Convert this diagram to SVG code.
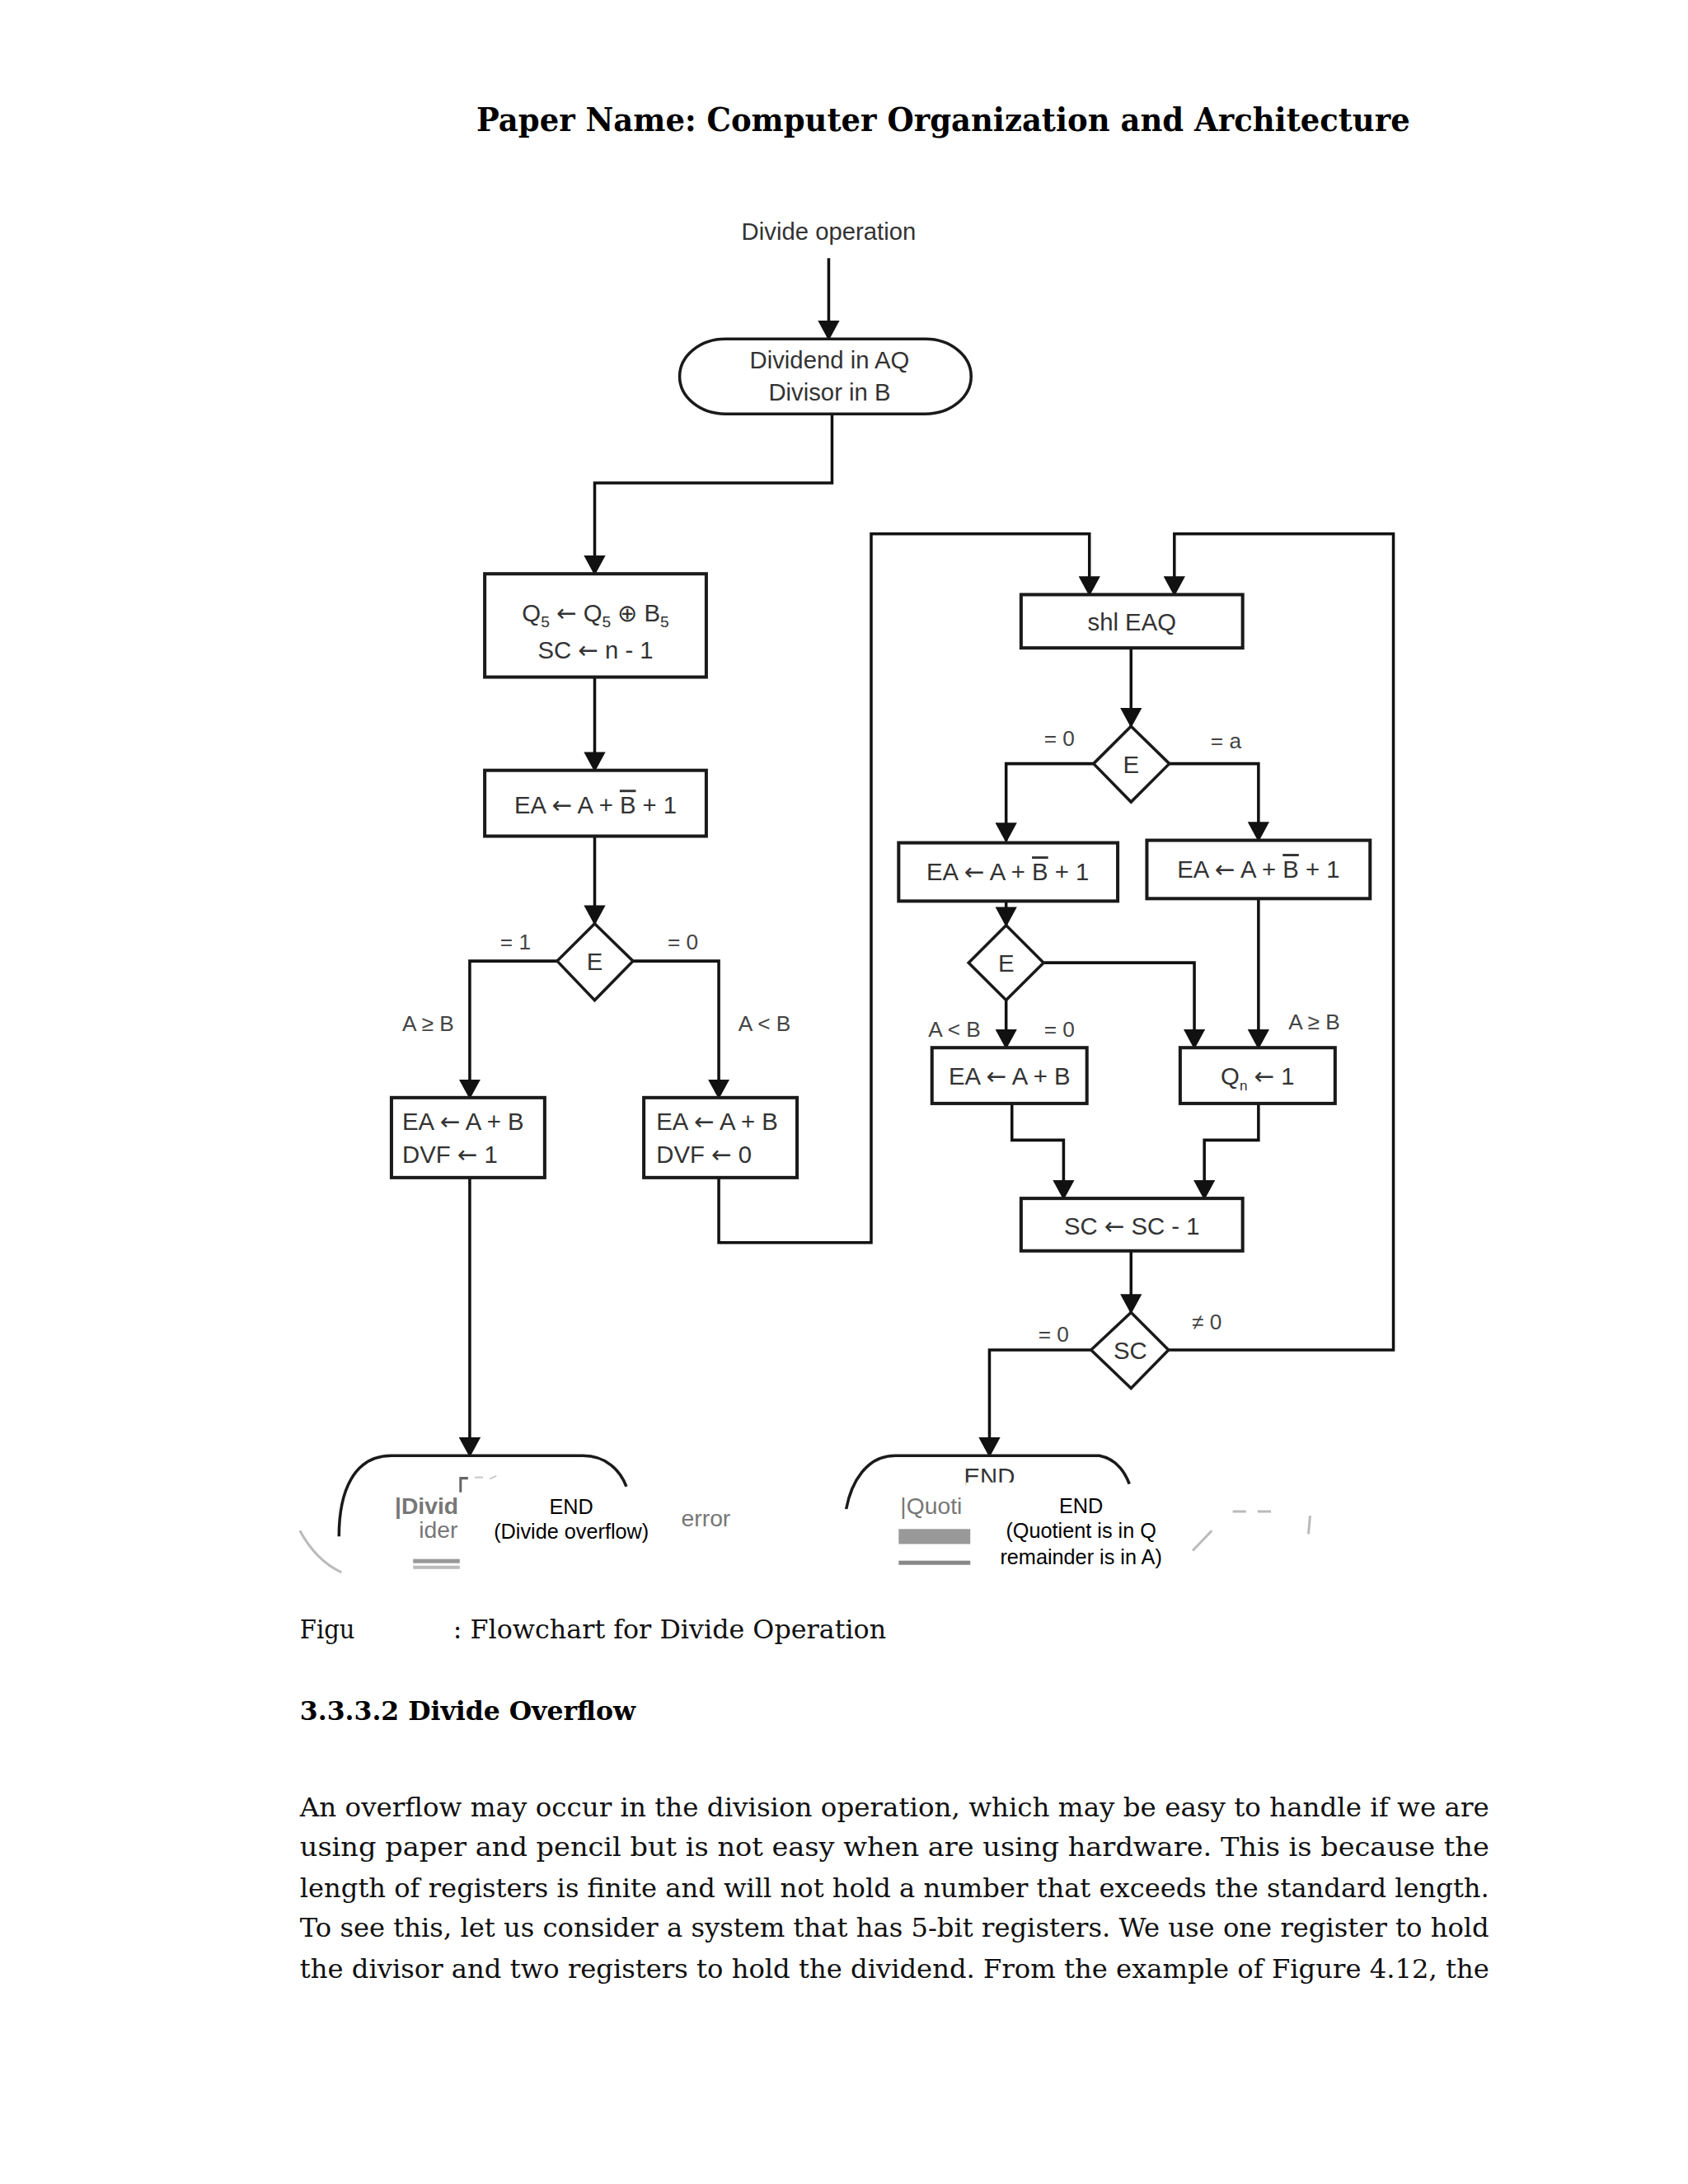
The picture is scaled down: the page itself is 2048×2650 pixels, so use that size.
<svg xmlns="http://www.w3.org/2000/svg" width="2048" height="2650" viewBox="0 0 2048 2650">
<defs>
<marker id="arr" markerUnits="userSpaceOnUse" markerWidth="24" markerHeight="26" refX="22" refY="13" orient="auto">
<path d="M0,0 L24,13 L0,26 z" fill="#111"/>
</marker>
<style>
.box{fill:#fff;stroke:#1a1a1a;stroke-width:4}
.dia{fill:#fff;stroke:#1a1a1a;stroke-width:3.5}
.term{fill:#fff;stroke:#1a1a1a;stroke-width:3.5}
.termo{fill:none;stroke:#1a1a1a;stroke-width:3.5}
.conn{fill:none;stroke:#111;stroke-width:3.5;marker-end:url(#arr)}
.ft{font-family:"Liberation Sans",Arial,sans-serif;font-size:29px;fill:#333}
.ar{font-family:"DejaVu Sans",sans-serif}
.mid{text-anchor:middle}
.lbl{font-family:"Liberation Sans",Arial,sans-serif;font-size:26px;fill:#444}
.end{font-family:"Liberation Sans",Arial,sans-serif;font-size:25px;fill:#000;text-anchor:middle}
.frag{font-family:"Liberation Sans",Arial,sans-serif;font-size:28px;fill:#777}
.faint{fill:none;stroke:#bbb;stroke-width:3}
.title{font-family:"DejaVu Serif","Liberation Serif",serif;font-weight:bold;font-size:38px;fill:#000}
.body{font-family:"DejaVu Serif","Liberation Serif",serif;font-size:31px;fill:#111}
.head{font-family:"DejaVu Serif","Liberation Serif",serif;font-weight:bold;font-size:31px;fill:#000}
.ov{text-decoration:overline}
</style>
</defs>
<rect width="2048" height="2650" fill="#fff"/>
<g transform="scale(1.0105)">

<text class="title" x="572" y="157" textLength="1121" lengthAdjust="spacingAndGlyphs">Paper Name: Computer Organization and Architecture</text>

<g id="connectors">
<path class="conn" d="M995 310 L995 407"/>
<path class="conn" d="M999 497 L999 580 L714 580 L714 689"/>
<path class="conn" d="M714 813 L714 925"/>
<path class="conn" d="M714 1004 L714 1109"/>
<path class="conn" d="M669 1154 L564 1154 L564 1318"/>
<path class="conn" d="M760 1154 L863 1154 L863 1318"/>
<path class="conn" d="M564 1414 L564 1748"/>
<path class="conn" d="M863 1414 L863 1492 L1046 1492 L1046 641 L1308 641 L1308 714"/>
<path class="conn" d="M1358 778 L1358 872"/>
<path class="conn" d="M1313 917 L1208 917 L1208 1010"/>
<path class="conn" d="M1404 917 L1511 917 L1511 1009"/>
<path class="conn" d="M1208 1082 L1208 1111"/>
<path class="conn" d="M1253 1156 L1434 1156 L1434 1258"/>
<path class="conn" d="M1208 1201 L1208 1258"/>
<path class="conn" d="M1511 1079 L1511 1258"/>
<path class="conn" d="M1215 1325 L1215 1369 L1277 1369 L1277 1439"/>
<path class="conn" d="M1511 1325 L1511 1369 L1446 1369 L1446 1439"/>
<path class="conn" d="M1358 1502 L1358 1576"/>
<path class="conn" d="M1310 1621 L1188 1621 L1188 1748"/>
<path class="conn" d="M1403 1621 L1673 1621 L1673 641 L1410 641 L1410 714"/>
</g>

<g id="labels">
<text class="ft mid" x="995" y="288" font-size="28">Divide operation</text>
<text class="lbl mid" x="619" y="1140">= 1</text>
<text class="lbl mid" x="820" y="1140">= 0</text>
<text class="lbl mid" x="514" y="1238">A ≥ B</text>
<text class="lbl mid" x="918" y="1238">A &lt; B</text>
<text class="lbl mid" x="1272" y="896">= 0</text>
<text class="lbl mid" x="1472" y="899">= a</text>
<text class="lbl mid" x="1146" y="1245">A &lt; B</text>
<text class="lbl mid" x="1272" y="1245">= 0</text>
<text class="lbl mid" x="1578" y="1236">A ≥ B</text>
<text class="lbl mid" x="1265" y="1611">= 0</text>
<text class="lbl mid" x="1449" y="1596">≠ 0</text>
</g>

<g id="start">
<rect class="term" x="816" y="407" width="350" height="90" rx="55" ry="45"/>
<text class="ft mid" x="996" y="442">Dividend in AQ</text>
<text class="ft mid" x="996" y="481">Divisor in B</text>
</g>

<g id="init">
<rect class="box" x="582" y="689" width="266" height="124"/>
<text class="ft mid" x="715" y="746">Q<tspan font-size="19" dy="7">5</tspan><tspan dy="-7"> </tspan><tspan class="ar">←</tspan> Q<tspan font-size="19" dy="7">5</tspan><tspan dy="-7"> ⊕ B</tspan><tspan font-size="19" dy="7">5</tspan></text>
<text class="ft mid" x="715" y="791">SC <tspan class="ar">←</tspan> n - 1</text>
</g>

<g id="sub1">
<rect class="box" x="582" y="925" width="266" height="79"/>
<text class="ft mid" x="715" y="977">EA <tspan class="ar">←</tspan> A + <tspan class="ov">B</tspan> + 1</text>
</g>

<g id="decE1">
<polygon class="dia" points="714,1109 760,1154 714,1201 669,1154"/>
<text class="ft mid" x="714" y="1165">E</text>
</g>

<g id="ovf">
<rect class="box" x="470" y="1318" width="184" height="96"/>
<text class="ft" x="483" y="1357">EA <tspan class="ar">←</tspan> A + B</text>
<text class="ft" x="483" y="1396">DVF <tspan class="ar">←</tspan> 1</text>
</g>

<g id="noovf">
<rect class="box" x="773" y="1318" width="184" height="96"/>
<text class="ft" x="788" y="1357">EA <tspan class="ar">←</tspan> A + B</text>
<text class="ft" x="788" y="1396">DVF <tspan class="ar">←</tspan> 0</text>
</g>

<g id="shl">
<rect class="box" x="1226" y="714" width="266" height="64"/>
<text class="ft mid" x="1359" y="757">shl EAQ</text>
</g>

<g id="decE2">
<polygon class="dia" points="1358,872 1404,917 1358,963 1313,917"/>
<text class="ft mid" x="1358" y="928">E</text>
</g>

<g id="subL">
<rect class="box" x="1079" y="1012" width="263" height="70"/>
<text class="ft mid" x="1210" y="1057">EA <tspan class="ar">←</tspan> A + <tspan class="ov">B</tspan> + 1</text>
</g>

<g id="subR">
<rect class="box" x="1377" y="1009" width="268" height="70"/>
<text class="ft mid" x="1511" y="1054">EA <tspan class="ar">←</tspan> A + <tspan class="ov">B</tspan> + 1</text>
</g>

<g id="decE3">
<polygon class="dia" points="1208,1111 1253,1156 1208,1201 1163,1156"/>
<text class="ft mid" x="1208" y="1167">E</text>
</g>

<g id="restore">
<rect class="box" x="1119" y="1258" width="186" height="67"/>
<text class="ft mid" x="1212" y="1302">EA <tspan class="ar">←</tspan> A + B</text>
</g>

<g id="qn">
<rect class="box" x="1417" y="1258" width="186" height="67"/>
<text class="ft mid" x="1510" y="1302">Q<tspan font-size="17" dy="7">n</tspan><tspan dy="-7"> </tspan><tspan class="ar">←</tspan> 1</text>
</g>

<g id="dec">
<rect class="box" x="1226" y="1439" width="266" height="63"/>
<text class="ft mid" x="1359" y="1482">SC <tspan class="ar">←</tspan> SC - 1</text>
</g>

<g id="decSC">
<polygon class="dia" points="1358,1576 1403,1621 1358,1667 1310,1621"/>
<text class="ft mid" x="1357" y="1632">SC</text>
</g>

<g id="endOverflow">
<path class="termo" d="M407 1845 C407 1790 425 1748 470 1748 L700 1748 C728 1748 745 1766 752 1785"/>
<path class="faint" d="M360 1838 C372 1860 388 1878 410 1888"/>
<path d="M553 1792 L553 1775 L562 1775" fill="none" stroke="#666" stroke-width="3"/>
<path d="M570 1774 L580 1774 M588 1776 L596 1772" fill="none" stroke="#ccc" stroke-width="2"/>
<text class="frag" x="474" y="1818" font-weight="bold" fill="#888">|Divid</text>
<text class="frag" x="503" y="1847" fill="#999">ider</text>
<rect x="496" y="1872" width="56" height="5" fill="#999"/>
<rect x="496" y="1880" width="56" height="4" fill="#bbb"/>
<text class="frag" x="818" y="1833" font-size="16" fill="#ccc">error</text>
<text class="end" x="686" y="1818">END</text>
<text class="end" x="686" y="1848">(Divide overflow)</text>
</g>

<g id="endDone">
<path class="termo" d="M1016 1812 C1022 1780 1040 1748 1075 1748 L1320 1748 C1340 1752 1350 1766 1356 1782"/>
<text class="ft mid" x="1188" y="1783">END</text>
<rect x="1160" y="1780" width="60" height="10" fill="#fff"/>
<text class="frag" x="1081" y="1818" fill="#555">|Quoti</text>
<rect x="1079" y="1836" width="86" height="18" fill="#999"/>
<rect x="1079" y="1874" width="86" height="5" fill="#888"/>
<path class="faint" d="M1432 1862 L1455 1838"/>
<path class="faint" d="M1480 1815 L1496 1815 M1510 1815 L1526 1815"/>
<path class="faint" d="M1573 1820 L1571 1842"/>
<text class="end" x="1298" y="1817">END</text>
<text class="end" x="1298" y="1847">(Quotient is in Q</text>
<text class="end" x="1298" y="1878">remainder is in A)</text>
</g>

<text class="body" x="360" y="1967" textLength="66" lengthAdjust="spacingAndGlyphs">Figu</text>
<text class="body" x="544" y="1967" textLength="520" lengthAdjust="spacingAndGlyphs">: Flowchart for Divide Operation</text>
<text class="head" x="360" y="2065" textLength="403" lengthAdjust="spacingAndGlyphs">3.3.3.2 Divide Overflow</text>

<text class="body" x="360" y="2181" textLength="1428" lengthAdjust="spacingAndGlyphs">An overflow may occur in the division operation, which may be easy to handle if we are</text>
<text class="body" x="360" y="2229" textLength="1428" lengthAdjust="spacingAndGlyphs">using paper and pencil but is not easy when are using hardware. This is because the</text>
<text class="body" x="360" y="2278" textLength="1428" lengthAdjust="spacingAndGlyphs">length of registers is finite and will not hold a number that exceeds the standard length.</text>
<text class="body" x="360" y="2326" textLength="1428" lengthAdjust="spacingAndGlyphs">To see this, let us consider a system that has 5-bit registers. We use one register to hold</text>
<text class="body" x="360" y="2375" textLength="1428" lengthAdjust="spacingAndGlyphs">the divisor and two registers to hold the dividend. From the example of Figure 4.12, the</text>
</g>
</svg>
